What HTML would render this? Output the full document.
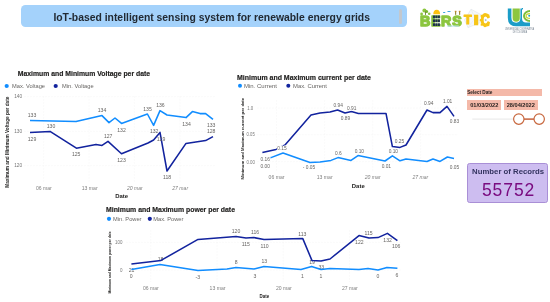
<!DOCTYPE html>
<html lang="en">
<head>
<meta charset="utf-8">
<title>IoT-based intelligent sensing system for renewable energy grids</title>
<style>
html,body{margin:0;padding:0;background:#fff;}
body{width:550px;height:302px;position:relative;overflow:hidden;font-family:"Liberation Sans",sans-serif;}
#charts{position:absolute;left:0;top:0;width:550px;height:302px;font-family:"Liberation Sans",sans-serif;}
#charts .grid{stroke:#eeeeee;stroke-width:0.5;stroke-dasharray:0.6 0.9;}
#charts .ln{fill:none;stroke-width:1.55;stroke-linejoin:round;stroke-linecap:butt;}
.header{position:absolute;left:21px;top:5px;width:386px;height:22.3px;background:#A4D2FB;border-radius:4.5px;}
.header h1{position:absolute;left:32.4px;top:5.3px;margin:0;font-size:10.38px;line-height:15px;font-weight:bold;color:#222a33;white-space:nowrap;letter-spacing:0;}
.header .grip{position:absolute;left:377.9px;top:4px;width:3.1px;height:14.8px;background:#c3c8ce;border-radius:1.5px;}
.slicer{position:absolute;left:466.6px;top:89px;width:76px;}
.slicer .hd{position:absolute;left:0;top:0;width:75.4px;height:7px;background:#F4B9A9;font-size:4.7px;line-height:7.8px;font-weight:bold;color:#2b2422;text-indent:0.6px;white-space:nowrap;}
.slicer .box{position:absolute;top:11px;height:9.8px;width:33.6px;background:#F4B9A9;font-size:5.65px;line-height:11.2px;font-weight:bold;color:#2b2422;text-align:center;white-space:nowrap;}
.slicer .b1{left:0.9px;}
.slicer .b2{left:37.4px;}
.slider{position:absolute;left:460px;top:110px;width:90px;height:20px;}
.card{position:absolute;left:467px;top:163.2px;width:79.2px;height:37.4px;background:#CDBDF0;border:0.7px solid #A98FD6;border-radius:2.6px;}
.card .t{position:absolute;left:1px;right:0;top:2.9px;text-align:center;font-size:7.78px;line-height:9px;font-weight:bold;color:#33335f;white-space:nowrap;}
.card .v{position:absolute;left:0;right:0;top:15.5px;text-align:center;font-size:17.5px;line-height:20px;color:#7A0C80;letter-spacing:0.95px;text-indent:2px;white-space:nowrap;}
</style>
</head>
<body>
<div class="header"><h1>IoT-based intelligent sensing system for renewable energy grids</h1><span class="grip"></span></div>
<svg id="charts" viewBox="0 0 550 302" width="550" height="302">
<g id="chart-voltage">
<line x1="24" x2="216" y1="96.6" y2="96.6" class="grid"/>
<line x1="24" x2="216" y1="131.4" y2="131.4" class="grid"/>
<line x1="24" x2="216" y1="165.6" y2="165.6" class="grid"/>
<line x1="43.6" x2="43.6" y1="96" y2="182" class="grid"/>
<line x1="89" x2="89" y1="96" y2="182" class="grid"/>
<line x1="134.4" x2="134.4" y1="96" y2="182" class="grid"/>
<line x1="179.9" x2="179.9" y1="96" y2="182" class="grid"/>
<text x="17.7" y="75.8" font-size="6.9" fill="#252423" text-anchor="start" font-weight="bold" textLength="132.4" lengthAdjust="spacingAndGlyphs" stroke="#252423" stroke-width="0.18">Maximum and Minimum Voltage per date</text>
<circle cx="6.7" cy="86" r="2.1" fill="#118DFF"/>
<text x="12.0" y="87.9" font-size="5.9" fill="#666462" text-anchor="start" font-weight="normal" textLength="33.0" lengthAdjust="spacingAndGlyphs">Max. Voltage</text>
<circle cx="55.7" cy="86" r="2.1" fill="#12239E"/>
<text x="62.0" y="87.9" font-size="5.9" fill="#666462" text-anchor="start" font-weight="normal" textLength="31.6" lengthAdjust="spacingAndGlyphs">Min. Voltage</text>
<text x="14.2" y="98.4" font-size="5" fill="#777" text-anchor="start" font-weight="normal" textLength="8.0" lengthAdjust="spacingAndGlyphs">140</text>
<text x="14.2" y="133.2" font-size="5" fill="#777" text-anchor="start" font-weight="normal" textLength="8.0" lengthAdjust="spacingAndGlyphs">130</text>
<text x="14.2" y="167.4" font-size="5" fill="#777" text-anchor="start" font-weight="normal" textLength="8.0" lengthAdjust="spacingAndGlyphs">120</text>
<text transform="translate(9.3,187.8) rotate(-90)" font-size="4.5" font-weight="bold" fill="#252423" textLength="91.2" lengthAdjust="spacingAndGlyphs">Maximum and Minimum Voltage per date</text>
<polyline points="30.0,120.6 76.0,121.6 102.0,115.6 109.0,122.6 115.0,118.0 121.5,123.4 147.4,114.0 153.6,125.4 160.0,110.6 167.0,115.0 186.0,117.6 192.4,111.6 200.0,113.6 205.6,113.6 213.0,119.4" class="ln" stroke="#118DFF"/>
<polyline points="30.0,132.6 50.0,131.4 76.4,148.2 96.0,144.4 102.0,145.4 108.0,141.4 121.5,153.8 148.0,143.0 153.6,140.0 160.0,132.4 167.0,171.0 186.0,143.4 205.6,140.6 213.0,136.6" class="ln" stroke="#12239E"/>
<text x="32.0" y="116.8" font-size="5.1" fill="#666462" text-anchor="middle" font-weight="normal">133</text>
<text x="51.0" y="127.8" font-size="5.1" fill="#666462" text-anchor="middle" font-weight="normal">130</text>
<text x="32.0" y="141.2" font-size="5.1" fill="#666462" text-anchor="middle" font-weight="normal">129</text>
<text x="102.0" y="112.2" font-size="5.1" fill="#666462" text-anchor="middle" font-weight="normal">134</text>
<text x="76.2" y="156.2" font-size="5.1" fill="#666462" text-anchor="middle" font-weight="normal">125</text>
<text x="108.2" y="137.8" font-size="5.1" fill="#666462" text-anchor="middle" font-weight="normal">127</text>
<text x="121.5" y="131.6" font-size="5.1" fill="#666462" text-anchor="middle" font-weight="normal">132</text>
<text x="121.5" y="162.2" font-size="5.1" fill="#666462" text-anchor="middle" font-weight="normal">123</text>
<text x="147.5" y="110.8" font-size="5.1" fill="#666462" text-anchor="middle" font-weight="normal">135</text>
<text x="160.4" y="107.2" font-size="5.1" fill="#666462" text-anchor="middle" font-weight="normal">136</text>
<text x="154.2" y="133.4" font-size="5.1" fill="#666462" text-anchor="middle" font-weight="normal">132</text>
<text x="161.0" y="140.8" font-size="5.1" fill="#666462" text-anchor="middle" font-weight="normal">129</text>
<text x="167.0" y="179.2" font-size="5.1" fill="#666462" text-anchor="middle" font-weight="normal">118</text>
<text x="186.5" y="126.2" font-size="5.1" fill="#666462" text-anchor="middle" font-weight="normal">134</text>
<text x="211.2" y="127.2" font-size="5.1" fill="#666462" text-anchor="middle" font-weight="normal">133</text>
<text x="211.2" y="133.2" font-size="5.1" fill="#666462" text-anchor="middle" font-weight="normal">128</text>
<text x="43.8" y="189.8" font-size="5.1" fill="#808080" text-anchor="middle" font-weight="normal" textLength="15.8" lengthAdjust="spacingAndGlyphs">06 mar</text>
<text x="89.7" y="189.8" font-size="5.1" fill="#808080" text-anchor="middle" font-weight="normal" textLength="15.8" lengthAdjust="spacingAndGlyphs">13 mar</text>
<text x="134.8" y="189.8" font-size="5.1" fill="#808080" text-anchor="middle" font-weight="normal" textLength="15.8" lengthAdjust="spacingAndGlyphs" font-style="italic">20 mar</text>
<text x="180.2" y="189.8" font-size="5.1" fill="#808080" text-anchor="middle" font-weight="normal" textLength="15.8" lengthAdjust="spacingAndGlyphs" font-style="italic">27 mar</text>
<text x="115.2" y="198.4" font-size="6" fill="#252423" text-anchor="start" font-weight="bold" textLength="12.9" lengthAdjust="spacingAndGlyphs">Date</text>
</g>
<g id="chart-current">
<line x1="257" x2="458" y1="108" y2="108" class="grid"/>
<line x1="257" x2="458" y1="134.8" y2="134.8" class="grid"/>
<line x1="257" x2="458" y1="161.6" y2="161.6" class="grid"/>
<line x1="276.5" x2="276.5" y1="100" y2="172" class="grid"/>
<line x1="324.6" x2="324.6" y1="100" y2="172" class="grid"/>
<line x1="372.8" x2="372.8" y1="100" y2="172" class="grid"/>
<line x1="420.6" x2="420.6" y1="100" y2="172" class="grid"/>
<text x="237.0" y="80.0" font-size="6.9" fill="#252423" text-anchor="start" font-weight="bold" textLength="134.0" lengthAdjust="spacingAndGlyphs" stroke="#252423" stroke-width="0.18">Minimum and Maximum current per date</text>
<circle cx="240" cy="85.8" r="2.0" fill="#118DFF"/>
<text x="244.0" y="87.7" font-size="5.9" fill="#666462" text-anchor="start" font-weight="normal" textLength="33.0" lengthAdjust="spacingAndGlyphs">Min. Current</text>
<circle cx="288.3" cy="85.8" r="2.0" fill="#12239E"/>
<text x="293.0" y="87.7" font-size="5.9" fill="#666462" text-anchor="start" font-weight="normal" textLength="34.0" lengthAdjust="spacingAndGlyphs">Max. Current</text>
<text x="247.2" y="109.8" font-size="4.8" fill="#777" text-anchor="start" font-weight="normal" textLength="6.1" lengthAdjust="spacingAndGlyphs">1.0</text>
<text x="246.6" y="135.9" font-size="4.8" fill="#777" text-anchor="start" font-weight="normal" textLength="8.2" lengthAdjust="spacingAndGlyphs">0.05</text>
<text x="246.4" y="163.9" font-size="4.8" fill="#777" text-anchor="start" font-weight="normal" textLength="8.6" lengthAdjust="spacingAndGlyphs">0.00</text>
<text transform="translate(243.5,179.4) rotate(-90)" font-size="4" font-weight="bold" fill="#252423" textLength="81.5" lengthAdjust="spacingAndGlyphs">Minimum and Maximum current per date</text>
<polyline points="262.0,160.2 271.0,157.6 283.0,153.0 310.0,162.6 320.0,162.0 331.0,160.4 338.0,157.6 351.0,160.4 358.0,155.6 385.0,161.0 392.4,155.8 400.0,160.8 406.0,159.0 427.0,161.5 433.0,159.0 440.0,161.4 447.4,157.0 454.0,158.4" class="ln" stroke="#118DFF"/>
<polyline points="262.4,152.6 276.0,149.4 285.0,145.0 311.0,115.0 320.0,113.0 330.0,112.0 337.6,110.0 345.0,113.0 351.4,111.6 358.4,113.4 386.0,113.4 392.4,146.6 400.0,147.4 406.0,145.0 427.0,110.0 433.0,112.6 440.0,112.6 447.0,106.4 454.0,116.4" class="ln" stroke="#12239E"/>
<rect x="277.3" y="146" width="9.4" height="5.4" fill="#fff"/><rect x="260" y="156.4" width="10.4" height="5.6" fill="#fff"/>
<text x="282.0" y="150.3" font-size="4.8" fill="#666462" text-anchor="middle" font-weight="normal" stroke="#fff" stroke-width="1.2" paint-order="stroke" stroke-linejoin="round">0.15</text>
<text x="265.2" y="160.7" font-size="4.8" fill="#666462" text-anchor="middle" font-weight="normal" stroke="#fff" stroke-width="1.2" paint-order="stroke" stroke-linejoin="round">0.16</text>
<text x="265.2" y="168.1" font-size="4.8" fill="#666462" text-anchor="middle" font-weight="normal" stroke="#fff" stroke-width="1.2" paint-order="stroke" stroke-linejoin="round">0.00</text>
<text x="309.0" y="169.3" font-size="4.8" fill="#666462" text-anchor="middle" font-weight="normal" stroke="#fff" stroke-width="1.2" paint-order="stroke" stroke-linejoin="round">- 0.05</text>
<text x="338.2" y="107.1" font-size="4.8" fill="#666462" text-anchor="middle" font-weight="normal" stroke="#fff" stroke-width="1.2" paint-order="stroke" stroke-linejoin="round">0.94</text>
<text x="351.7" y="109.7" font-size="4.8" fill="#666462" text-anchor="middle" font-weight="normal" stroke="#fff" stroke-width="1.2" paint-order="stroke" stroke-linejoin="round">0.91</text>
<text x="345.5" y="120.3" font-size="4.8" fill="#666462" text-anchor="middle" font-weight="normal" stroke="#fff" stroke-width="1.2" paint-order="stroke" stroke-linejoin="round">0.89</text>
<text x="338.3" y="155.3" font-size="4.8" fill="#666462" text-anchor="middle" font-weight="normal" stroke="#fff" stroke-width="1.2" paint-order="stroke" stroke-linejoin="round">0.6</text>
<text x="359.3" y="153.1" font-size="4.8" fill="#666462" text-anchor="middle" font-weight="normal" stroke="#fff" stroke-width="1.2" paint-order="stroke" stroke-linejoin="round">0.10</text>
<text x="393.3" y="153.1" font-size="4.8" fill="#666462" text-anchor="middle" font-weight="normal" stroke="#fff" stroke-width="1.2" paint-order="stroke" stroke-linejoin="round">0.10</text>
<text x="399.5" y="143.1" font-size="4.8" fill="#666462" text-anchor="middle" font-weight="normal" stroke="#fff" stroke-width="1.2" paint-order="stroke" stroke-linejoin="round">0.25</text>
<text x="386.3" y="167.7" font-size="4.8" fill="#666462" text-anchor="middle" font-weight="normal" stroke="#fff" stroke-width="1.2" paint-order="stroke" stroke-linejoin="round">0.01</text>
<text x="428.7" y="105.3" font-size="4.8" fill="#666462" text-anchor="middle" font-weight="normal" stroke="#fff" stroke-width="1.2" paint-order="stroke" stroke-linejoin="round">0.94</text>
<text x="447.6" y="102.7" font-size="4.8" fill="#666462" text-anchor="middle" font-weight="normal" stroke="#fff" stroke-width="1.2" paint-order="stroke" stroke-linejoin="round">1.01</text>
<text x="454.5" y="122.7" font-size="4.8" fill="#666462" text-anchor="middle" font-weight="normal" stroke="#fff" stroke-width="1.2" paint-order="stroke" stroke-linejoin="round">0.83</text>
<text x="454.5" y="168.7" font-size="4.8" fill="#666462" text-anchor="middle" font-weight="normal" stroke="#fff" stroke-width="1.2" paint-order="stroke" stroke-linejoin="round">0.05</text>
<text x="276.5" y="179.1" font-size="5.1" fill="#808080" text-anchor="middle" font-weight="normal" textLength="15.8" lengthAdjust="spacingAndGlyphs">06 mar</text>
<text x="324.7" y="179.1" font-size="5.1" fill="#808080" text-anchor="middle" font-weight="normal" textLength="15.8" lengthAdjust="spacingAndGlyphs">13 mar</text>
<text x="372.7" y="179.1" font-size="5.1" fill="#808080" text-anchor="middle" font-weight="normal" textLength="15.8" lengthAdjust="spacingAndGlyphs" font-style="italic">20 mar</text>
<text x="420.3" y="179.1" font-size="5.1" fill="#808080" text-anchor="middle" font-weight="normal" textLength="15.8" lengthAdjust="spacingAndGlyphs" font-style="italic">27 mar</text>
<text x="351.8" y="187.6" font-size="6" fill="#252423" text-anchor="start" font-weight="bold" textLength="12.9" lengthAdjust="spacingAndGlyphs">Date</text>
</g>
<g id="chart-power">
<line x1="126" x2="401" y1="242.4" y2="242.4" class="grid"/>
<line x1="126" x2="401" y1="270" y2="270" class="grid"/>
<line x1="150.7" x2="150.7" y1="230" y2="282" class="grid"/>
<line x1="217" x2="217" y1="230" y2="282" class="grid"/>
<line x1="283.2" x2="283.2" y1="230" y2="282" class="grid"/>
<line x1="349.5" x2="349.5" y1="230" y2="282" class="grid"/>
<text x="106.0" y="212.2" font-size="7" fill="#252423" text-anchor="start" font-weight="bold" textLength="129.0" lengthAdjust="spacingAndGlyphs" stroke="#252423" stroke-width="0.18">Minimum and Maximum power per date</text>
<circle cx="109" cy="218.8" r="2.1" fill="#118DFF"/>
<text x="113.0" y="221.2" font-size="6" fill="#666462" text-anchor="start" font-weight="normal" textLength="28.5" lengthAdjust="spacingAndGlyphs">Min. Power</text>
<circle cx="149.8" cy="218.8" r="2.1" fill="#12239E"/>
<text x="153.2" y="221.2" font-size="6" fill="#666462" text-anchor="start" font-weight="normal" textLength="30.2" lengthAdjust="spacingAndGlyphs">Max. Power</text>
<text x="115.0" y="244.1" font-size="4.8" fill="#777" text-anchor="start" font-weight="normal" textLength="7.4" lengthAdjust="spacingAndGlyphs">100</text>
<text x="120.0" y="271.7" font-size="4.8" fill="#777" text-anchor="start" font-weight="normal" textLength="2.5" lengthAdjust="spacingAndGlyphs">0</text>
<text transform="translate(111.3,293.5) rotate(-90)" font-size="3.1" font-weight="bold" fill="#252423" textLength="62" lengthAdjust="spacingAndGlyphs">Minimum and Maximum power per date</text>
<text x="131.5" y="272.4" font-size="5.1" fill="#666462" text-anchor="middle" font-weight="normal">21</text>
<text x="160.5" y="261.2" font-size="5.1" fill="#666462" text-anchor="middle" font-weight="normal">18</text>
<text x="312.0" y="263.8" font-size="5.1" fill="#666462" text-anchor="middle" font-weight="normal">19</text>
<text x="321.3" y="269.2" font-size="5.1" fill="#666462" text-anchor="middle" font-weight="normal">33</text>
<polyline points="131.4,269.6 160.0,264.6 198.0,270.6 227.0,269.0 236.0,267.4 254.0,269.0 264.0,266.4 301.0,269.4 311.6,266.4 321.0,269.4 330.0,268.4 359.0,269.6 368.0,268.4 378.0,270.0 387.0,267.4 397.4,268.2" class="ln" stroke="#118DFF"/>
<polyline points="131.4,264.0 161.0,260.4 198.0,239.4 236.0,236.4 246.0,238.0 254.0,237.6 264.0,239.4 302.8,238.6 312.0,260.6 321.0,261.0 330.0,259.0 359.0,235.6 369.0,238.0 378.0,237.6 387.4,233.4 397.4,240.6" class="ln" stroke="#12239E"/>
<text x="131.2" y="278.2" font-size="5.1" fill="#666462" text-anchor="middle" font-weight="normal">0</text>
<text x="197.8" y="279.4" font-size="5.1" fill="#666462" text-anchor="middle" font-weight="normal">-3</text>
<text x="236.0" y="232.8" font-size="5.1" fill="#666462" text-anchor="middle" font-weight="normal">120</text>
<text x="255.0" y="234.2" font-size="5.1" fill="#666462" text-anchor="middle" font-weight="normal">116</text>
<text x="302.3" y="235.8" font-size="5.1" fill="#666462" text-anchor="middle" font-weight="normal">113</text>
<text x="245.8" y="246.4" font-size="5.1" fill="#666462" text-anchor="middle" font-weight="normal">115</text>
<text x="264.6" y="247.8" font-size="5.1" fill="#666462" text-anchor="middle" font-weight="normal">110</text>
<text x="236.2" y="264.2" font-size="5.1" fill="#666462" text-anchor="middle" font-weight="normal">8</text>
<text x="264.3" y="262.8" font-size="5.1" fill="#666462" text-anchor="middle" font-weight="normal">13</text>
<text x="254.8" y="277.8" font-size="5.1" fill="#666462" text-anchor="middle" font-weight="normal">3</text>
<text x="302.4" y="277.8" font-size="5.1" fill="#666462" text-anchor="middle" font-weight="normal">1</text>
<text x="321.0" y="277.8" font-size="5.1" fill="#666462" text-anchor="middle" font-weight="normal">1</text>
<text x="378.0" y="278.2" font-size="5.1" fill="#666462" text-anchor="middle" font-weight="normal">0</text>
<text x="397.0" y="276.8" font-size="5.1" fill="#666462" text-anchor="middle" font-weight="normal">6</text>
<text x="368.6" y="234.8" font-size="5.1" fill="#666462" text-anchor="middle" font-weight="normal">115</text>
<text x="359.3" y="243.8" font-size="5.1" fill="#666462" text-anchor="middle" font-weight="normal">122</text>
<text x="387.6" y="241.8" font-size="5.1" fill="#666462" text-anchor="middle" font-weight="normal">132</text>
<text x="396.2" y="248.4" font-size="5.1" fill="#666462" text-anchor="middle" font-weight="normal">106</text>
<text x="150.8" y="290.4" font-size="5.1" fill="#808080" text-anchor="middle" font-weight="normal" textLength="15.8" lengthAdjust="spacingAndGlyphs">06 mar</text>
<text x="217.5" y="290.4" font-size="5.1" fill="#808080" text-anchor="middle" font-weight="normal" textLength="15.8" lengthAdjust="spacingAndGlyphs">13 mar</text>
<text x="283.8" y="290.4" font-size="5.1" fill="#808080" text-anchor="middle" font-weight="normal" textLength="15.8" lengthAdjust="spacingAndGlyphs">20 mar</text>
<text x="349.8" y="290.4" font-size="5.1" fill="#808080" text-anchor="middle" font-weight="normal" textLength="15.8" lengthAdjust="spacingAndGlyphs">27 mar</text>
<text x="259.6" y="298.0" font-size="4.6" fill="#252423" text-anchor="start" font-weight="bold" textLength="9.6" lengthAdjust="spacingAndGlyphs">Date</text>
</g>
<g id="logo-berstic">
<path d="M471 9.2 L482 15.2 L481.5 22 L468 27.6 L464.5 20 Z" fill="#f6f8fa" stroke="#d9dee6" stroke-width="0.5" stroke-linejoin="round"/>
<path d="M471 9.2 L475 18 L468 27.6 M475 18 L481.5 22" fill="none" stroke="#dfe4ea" stroke-width="0.4"/>
<circle cx="424.4" cy="10.6" r="2.0" fill="#8CC63F"/><circle cx="426.6" cy="11.6" r="1.5" fill="#7ab530"/><rect x="425" y="11.5" width="0.9" height="3.4" fill="#6f7f35"/>
<circle cx="421.6" cy="14" r="1.4" fill="#8CC63F"/><circle cx="429.2" cy="13.7" r="1.3" fill="#8CC63F"/>
<path d="M433.3 14.3 A3.4 4.6 0 0 1 440.1 14.3 Z" fill="#FBC10F"/>
<rect x="443" y="12.1" width="2.4" height="1" rx="0.5" fill="#3fa9e0"/><rect x="447.4" y="11" width="3.2" height="1.1" rx="0.5" fill="#3fa9e0"/>
<rect x="455" y="11.2" width="1.2" height="3.6" fill="#9a8a3a"/><rect x="459" y="11.2" width="1.2" height="3.6" fill="#9a8a3a"/><rect x="454.8" y="10.8" width="1.6" height="1.2" fill="#c28a2a"/><rect x="458.8" y="10.8" width="1.6" height="1.2" fill="#c28a2a"/>
<rect x="483.7" y="13.3" width="2.2" height="2.2" fill="#F7C518"/>
<rect x="483.7" y="24.9" width="2.2" height="2.2" fill="#F7C518"/>
<rect x="479.8" y="19.1" width="2.2" height="2.2" fill="#F7C518"/>
<rect x="480.7" y="14.9" width="2.2" height="2.2" fill="#F7C518"/>
<rect x="480.7" y="23.5" width="2.2" height="2.2" fill="#F7C518"/>
<rect x="487.1" y="14.5" width="2.2" height="2.2" fill="#F7C518"/>
<rect x="487.1" y="23.9" width="2.2" height="2.2" fill="#F7C518"/>
<text y="25.7" font-size="14.3" font-weight="bold" stroke-width="1.4" stroke-linejoin="round" x="420 431 441 452.2"><tspan fill="#8CC63F" stroke="#8CC63F">BERS</tspan></text>
<text y="24.3" font-size="12.4" font-weight="bold" stroke-linejoin="round" fill="#F7C518" stroke="#F7C518"><tspan x="464" stroke-width="1.2">T</tspan><tspan x="474.5" y="24.4" font-size="11.6" stroke-width="2.5" stroke-linejoin="miter">I</tspan></text>
<text transform="translate(480.7,25.9) scale(0.8,1)" font-size="15.6" font-weight="bold" stroke-width="1.3" stroke-linejoin="round" fill="#F7C518" stroke="#F7C518">C</text>
<rect x="432.90" y="15.50" width="2.1" height="2.7" fill="#1d2f4f"/>
<rect x="435.35" y="15.50" width="2.1" height="2.7" fill="#1d2f4f"/>
<rect x="437.80" y="15.50" width="2.1" height="2.7" fill="#1d2f4f"/>
<rect x="432.90" y="19.40" width="2.1" height="2.7" fill="#1d2f4f"/>
<rect x="435.35" y="19.40" width="2.1" height="2.7" fill="#1d2f4f"/>
<rect x="437.80" y="19.40" width="2.1" height="2.7" fill="#1d2f4f"/>
<rect x="432.90" y="23.30" width="2.1" height="2.7" fill="#1d2f4f"/>
<rect x="435.35" y="23.30" width="2.1" height="2.7" fill="#1d2f4f"/>
<rect x="437.80" y="23.30" width="2.1" height="2.7" fill="#1d2f4f"/>
<rect x="447" y="25.4" width="12" height="1.4" rx="0.7" fill="#bfe3f5" opacity="0.9"/>
<circle cx="447.5" cy="19.5" r="0.8" fill="#e8f4d0"/><circle cx="457" cy="23" r="0.7" fill="#e8f0ff"/>
<circle cx="485.6" cy="20" r="1.2" fill="#e6eef2"/><circle cx="485.8" cy="20" r="0.55" fill="#4a6a7a"/>
</g>
<g id="logo-uc">
<path d="M507.8 8.5 H511.4 V17.6 Q511.4 22.8 516.2 22.8 Q520.4 22.8 520.4 17.6 V8.5 H522 V18.4 Q522 22.4 526 22.4 H530 V26.2 H516.2 Q507.8 26.2 507.8 17.8 Z" fill="#1B9DC8"/>
<rect x="522" y="8" width="1" height="1.4" fill="#1B9DC8"/>
<path d="M512.6 8.5 H519.8 V17.9 Q519.8 21.7 516.2 21.7 Q512.6 21.7 512.6 17.9 Z" fill="#8DC63F"/>
<path d="M530 11 A6 5 0 0 0 530 21" fill="none" stroke="#7DBE3C" stroke-width="2"/>
<path d="M530 13.6 A3.9 2.4 0 0 0 530 18.4" fill="none" stroke="#C6D730" stroke-width="1.2"/>
<circle cx="529.2" cy="15.8" r="0.95" fill="#1B9DC8"/>
<text x="519.5" y="30.2" font-size="2.8" fill="#717e8c" text-anchor="middle" font-weight="normal" textLength="29.0" lengthAdjust="spacingAndGlyphs">UNIVERSIDAD COOPERATIVA</text>
<text x="519.9" y="33.0" font-size="2.8" fill="#717e8c" text-anchor="middle" font-weight="normal" textLength="14.3" lengthAdjust="spacingAndGlyphs">DE COLOMBIA</text>
</g>
</svg>
<div class="slicer"><div class="hd">Select Date</div><div class="box b1">01/03/2022</div><div class="box b2">28/04/2022</div></div>
<svg class="slider" viewBox="460 110 90 20" width="90" height="20">
<line x1="472.3" x2="513.4" y1="119.1" y2="119.1" stroke="#dcdcdc" stroke-width="0.7"/>
<line x1="524" x2="534" y1="119.1" y2="119.1" stroke="#C2562E" stroke-width="1.4"/>
<circle cx="518.8" cy="119.1" r="5.2" fill="#fff" stroke="#C8683F" stroke-width="1.2"/>
<circle cx="539.2" cy="119.1" r="5.2" fill="#fff" stroke="#C8683F" stroke-width="1.2"/>
</svg>
<div class="card"><div class="t">Number of Records</div><div class="v">55752</div></div>
</body>
</html>
